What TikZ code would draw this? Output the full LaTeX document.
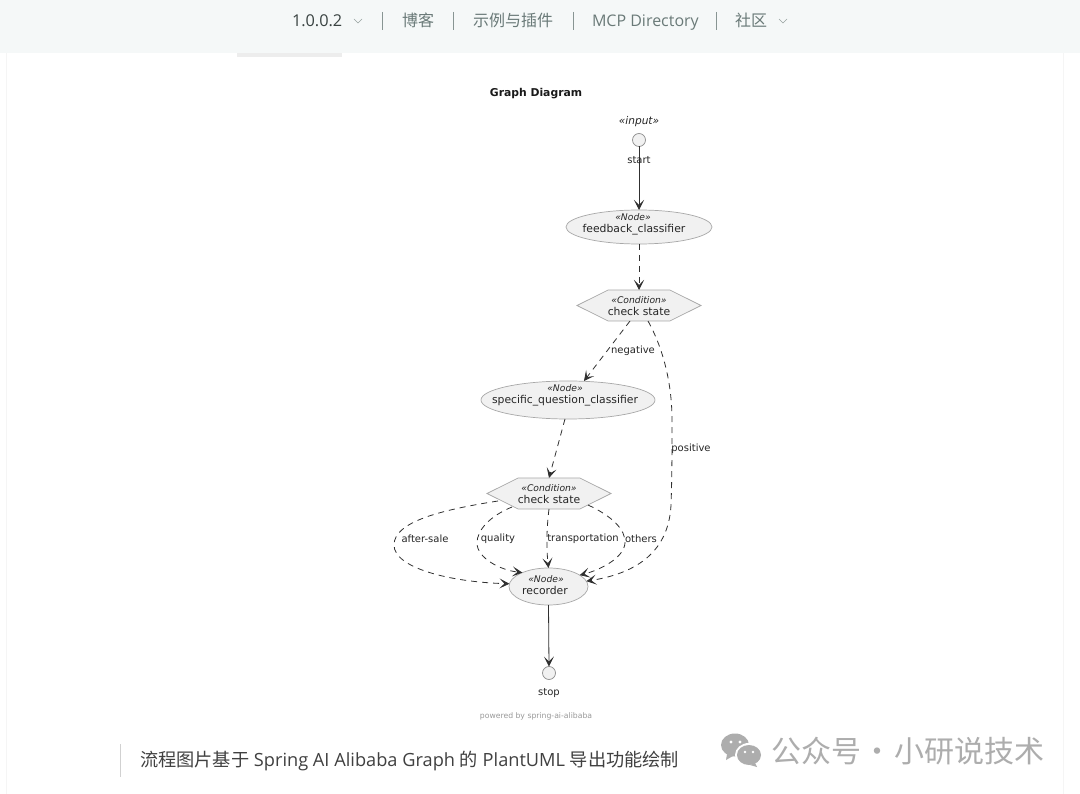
\documentclass[tikz,border=0pt]{standalone}
\usepackage{fontspec}
\setmainfont{DejaVu Sans}
\newfontfamily\cjkf{Noto Sans CJK SC}
\newfontfamily\latf{Open Sans}
\usetikzlibrary{arrows.meta,shapes.geometric,shapes.symbols,calc}
\definecolor{nodefill}{HTML}{F1F1F1}
\definecolor{nodeline}{HTML}{A8A8A8}
\definecolor{edgec}{HTML}{303030}
\definecolor{topbar}{HTML}{F5F8F8}
\definecolor{navtxt}{HTML}{6A7A78}
\definecolor{wm}{HTML}{ADADAD}
\tikzset{
  x=1pt,y=-1pt,
  every node/.style={inner sep=0pt,outer sep=0pt,align=center},
  elnode/.style={ellipse,draw=nodeline,fill=nodefill,line width=.7pt},
  hexnode/.style={signal,signal to=east and west,signal pointer angle=53,draw=nodeline,fill=nodefill,line width=.7pt,minimum width=124pt,minimum height=31pt},
  endpoint/.style={circle,draw=nodeline!85!black,fill=nodefill,line width=.7pt,minimum size=13pt},
  flow/.style={draw=edgec,line width=.8pt,-{Stealth[length=10pt,width=10pt,inset=5pt]}},
  dflow/.style={flow,dash pattern=on 6pt off 5pt},
  lab/.style={font=\fontsize{10}{12}\selectfont,text=black!85},
  nm/.style={font=\fontsize{10.8}{12}\selectfont,text=black!85},
  st/.style={font=\fontsize{9.2}{10}\selectfont\itshape,text=black!85},
  nav/.style={font=\fontsize{16}{18}\selectfont,text=navtxt},
  navsep/.style={draw=navtxt!80,line width=.7pt},
  chev/.style={draw=navtxt!70,line width=.6pt},
}
\begin{document}
\begin{tikzpicture}
\useasboundingbox (0,0) rectangle (1080,794);
\fill[white] (0,0) rectangle (1080,794);
\draw[black!4,line width=.8pt] (6,53) -- (6,794);
\draw[black!4,line width=.8pt] (1063,53) -- (1063,794);
\fill[topbar] (0,0) rectangle (1080,53);
\fill[black!7] (237,53) rectangle (342,57);
% top navigation
\node[nav,anchor=base west,font=\fontsize{16.3}{18}\selectfont\latf,text=navtxt!55!black] (v) at (292,27) {1.0.0.2};
\coordinate (ch1) at (358,21);
\draw[chev] ($(ch1)+(-4,-2)$) -- ($(ch1)+(0,2)$) -- ($(ch1)+(4,-2)$);
\coordinate (s1a) at (382,12); \coordinate (s1b) at (382,30);
\draw[navsep] (s1a) -- (s1b);
\node[nav,anchor=base west,font=\fontsize{16}{18}\selectfont\cjkf] (n1) at (402,27) {博客};
\coordinate (s2a) at (453,12); \coordinate (s2b) at (453,30);
\draw[navsep] (s2a) -- (s2b);
\node[nav,anchor=base west,font=\fontsize{16}{18}\selectfont\cjkf] (n2) at (473,27) {示例与插件};
\coordinate (s3a) at (573,12); \coordinate (s3b) at (573,30);
\draw[navsep] (s3a) -- (s3b);
\node[nav,anchor=base west,font=\fontsize{16}{18}\selectfont\latf] (n3) at (592,27) {MCP Directory};
\coordinate (s4a) at (716,12); \coordinate (s4b) at (716,30);
\draw[navsep] (s4a) -- (s4b);
\node[nav,anchor=base west,font=\fontsize{16}{18}\selectfont\cjkf] (n4) at (735,27) {社区};
\coordinate (ch2) at (783,21);
\draw[chev] ($(ch2)+(-4,-2)$) -- ($(ch2)+(0,2)$) -- ($(ch2)+(4,-2)$);
% title
\node[font=\fontsize{10.8}{12}\selectfont\bfseries,text=black!90] (title) at (536,94) {Graph Diagram};
\node[font=\fontsize{10.6}{12}\selectfont\itshape,text=black!85] (instereo) at (639,122) {«input»};
% nodes
\node[endpoint] (start) at (639,140) {};
\node[elnode,minimum width=146pt,minimum height=34pt] (fb) at (639,227) {};
\node[st] at (633,217.5) {«Node»};
\node[nm] at (634,230) {feedback\_classifier};
\node[hexnode] (hexa) at (639,305.5) {};
\node[st] at (639,300) {«Condition»};
\node[nm] at (639,311) {check state};
\node[elnode,minimum width=174pt,minimum height=38pt] (sq) at (568,400) {};
\node[st] at (565,388) {«Node»};
\node[nm] at (565,400.5) {specific\_question\_classifier};
\node[hexnode] (hexb) at (549,493.5) {};
\node[st] at (549,488) {«Condition»};
\node[nm] at (549,499) {check state};
\node[elnode,minimum width=79pt,minimum height=37pt] (rec) at (548.5,586.5) {};
\node[st] at (546,579) {«Node»};
\node[nm] at (545,590) {recorder};
\node[endpoint] (stop) at (549,673) {};
\node[lab] (stoplab) at (549,693) {stop};
% edges
\draw[flow] (start) -- (start |- fb.north);
\draw[dflow] (fb.south) -- (hexa.north);
\path (hexa.south) ++(-9,0) coordinate (h1a);
\draw[dflow] (h1a) -- (584,381);
\path (hexa.south) ++(9,0) coordinate (h1b);
\draw[dflow] (h1b) .. controls (664,350) and (672,385) .. (672,420)
  .. controls (672,450) and (672,480) .. (671,505)
  .. controls (669,545) and (645,572) .. (rec.8);
\draw[dflow] (sq.-99) -- (hexb.north);
\path (hexb.south) ++(-51,-8) coordinate (h2a);
\path (hexb.south) ++(-37,-2) coordinate (h2q);
\path (hexb.south) ++(39,-4) coordinate (h2o);
\draw[dflow] (h2a) .. controls (440,510) and (394,522) .. (394,545)
  .. controls (394,568) and (450,582) .. (rec.176);
\draw[dflow] (h2q) .. controls (490,516) and (477,530) .. (477,543)
  .. controls (477,558) and (500,570) .. (rec.152);
\draw[dflow] (hexb.south) .. controls (547,525) and (546,545) .. (rec.north);
\draw[dflow] (h2o) .. controls (612,516) and (626,530) .. (625,543)
  .. controls (624,558) and (600,570) .. (rec.20);
\draw[flow] (rec.south) -- (stop.north);
% edge labels
\node[lab] at (639,160) {start};
\node[lab] at (633,351) {negative};
\node[lab] at (691,449) {positive};
\node[lab] at (425,539) {after-sale};
\node[lab] at (498,539) {quality};
\node[lab] at (583,539) {transportation};
\node[lab] at (641,539) {others};
\node[font=\fontsize{7.7}{9}\selectfont,text=black!40] (pw) at (536,716) {powered by spring-ai-alibaba};
% caption
\coordinate (bar1) at (120,744); \coordinate (bar2) at (120,777);
\draw[black!18,line width=1pt] (bar1) -- (bar2);
\node[anchor=west,font=\fontsize{18.2}{20}\selectfont\latf,text=black!75] (cap) at (140,761.5)
 {{\cjkf 流程图片基于} Spring AI Alibaba Graph {\cjkf 的} PlantUML {\cjkf 导出功能绘制}};
% watermark
\fill[wm] (735,745) ellipse (14 and 11.5);
\fill[wm] (727,754) -- (726,760) -- (733,756) -- cycle;
\fill[white] (749,755) ellipse (14 and 12);
\fill[wm] (749,755) ellipse (12 and 10);
\fill[wm] (755,763) -- (757,767) -- (750,765) -- cycle;
\fill[white] (731,742) circle (1.7);
\fill[white] (740,742) circle (1.7);
\fill[white] (745,752) circle (1.4);
\fill[white] (753,752) circle (1.4);
\node[anchor=west,font=\fontsize{30}{32}\selectfont\cjkf,text=wm] (wmt) at (771,751) {公众号\kern-5pt{} · \kern-5pt{}小研说技术};
\end{tikzpicture}
\end{document}
